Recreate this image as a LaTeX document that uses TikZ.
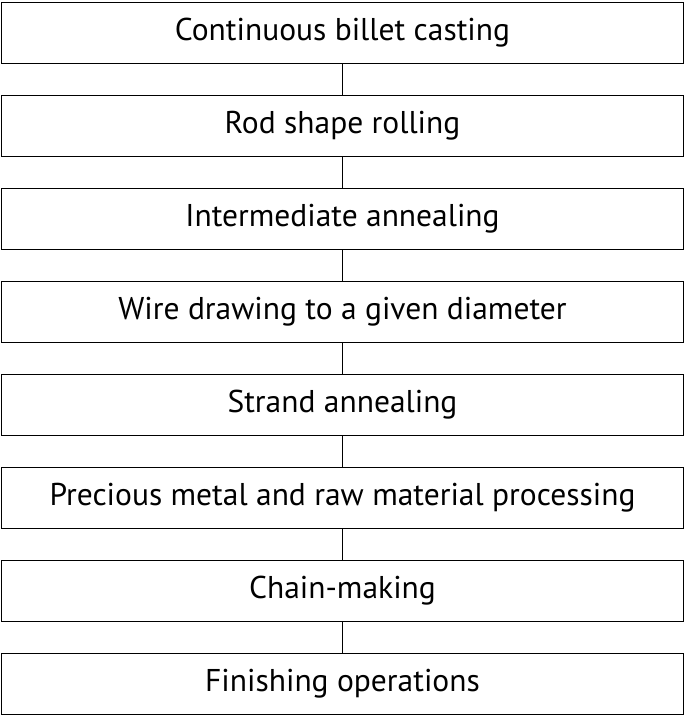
\documentclass[tikz,border=0pt]{standalone}
\usepackage{fontspec}
\setmainfont{PT Sans}
\begin{document}
\begin{tikzpicture}[x=1pt,y=-1pt,
  stepbox/.style={draw=black,line width=1.5pt,minimum width=682pt,minimum height=61pt,inner sep=0pt,font=\fontsize{31.5}{36}\selectfont},
  link/.style={draw=black,line width=1.2pt}]
\useasboundingbox (0,0) rectangle (685,715);
\foreach \i/\t in {1/Continuous billet casting,2/Rod shape rolling,3/Intermediate annealing,4/Wire drawing to a given diameter,5/Strand annealing,6/Precious metal and raw material processing,7/Chain-making,8/Finishing operations}
  \node[stepbox] (b\i) at (342.5,{33+93*(\i-1)}) {\t};
\foreach \i [evaluate=\i as \j using int(\i+1)] in {1,...,7}
  \draw[link] (b\i.south) -- (b\j.north);
\end{tikzpicture}
\end{document}
